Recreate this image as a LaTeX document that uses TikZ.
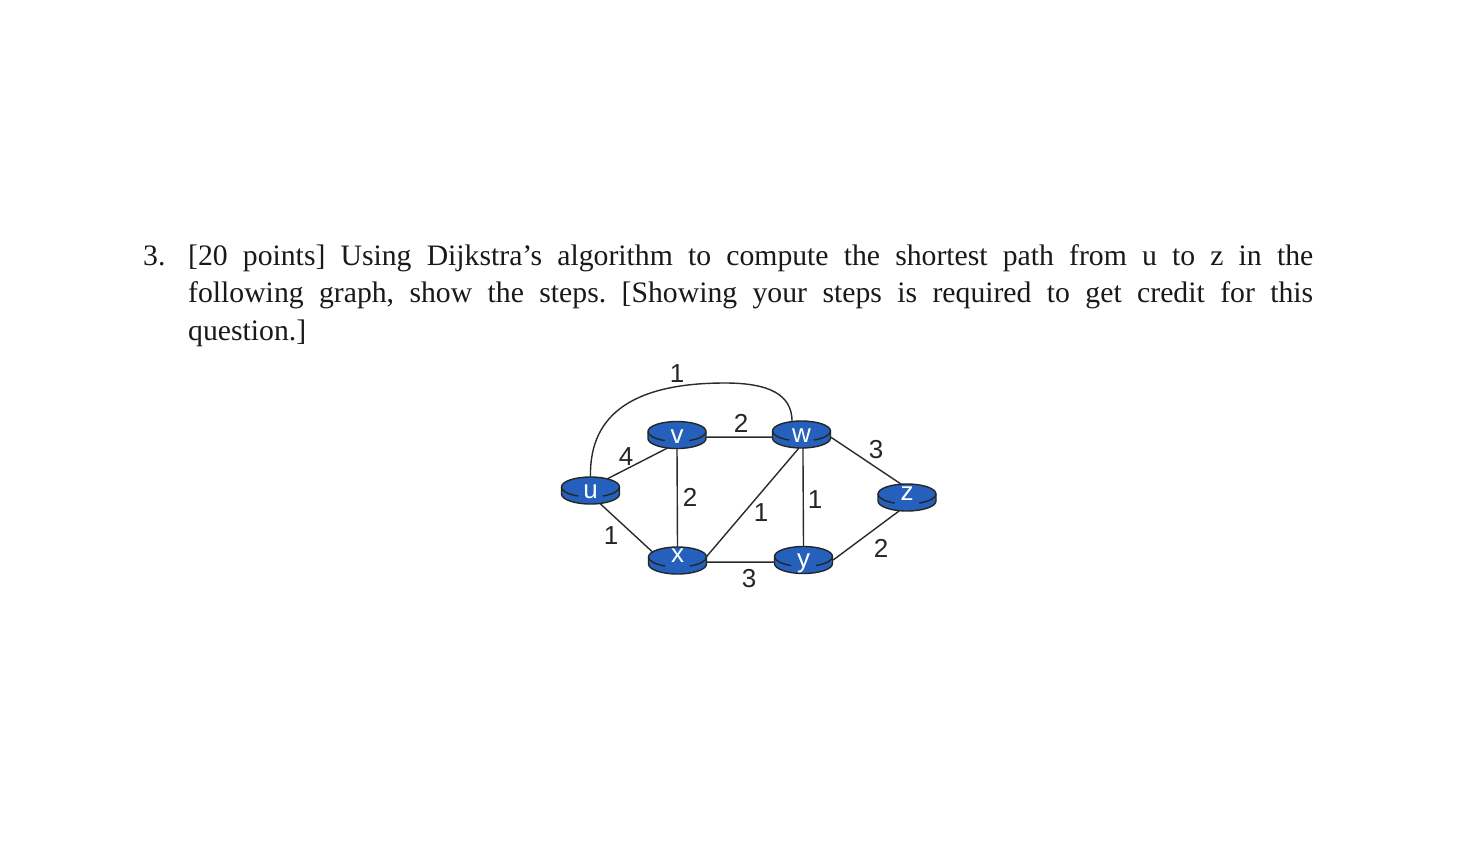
\documentclass[tikz,border=0pt]{standalone}
\usepackage{fontspec}
\setmainfont{Liberation Serif}
\newfontfamily\arialfont{Liberation Sans}
\usetikzlibrary{shapes.geometric}
\definecolor{routerblue}{HTML}{2460BC}
\definecolor{linedark}{HTML}{2B2B2B}
\tikzset{
  textline/.style={anchor=base west,inner sep=0pt,font=\fontsize{29.7}{37.5}\selectfont,text=black!90},
  routerhub/.style={ellipse,minimum width=59pt,minimum height=27pt,inner sep=0pt},
  routertxt/.style={text=white,inner sep=0pt,font=\arialfont\fontsize{26}{26}\selectfont},
  link/.style={draw=linedark,line width=1.4pt},
  cost/.style={inner sep=0pt,text=black!85,font=\arialfont\fontsize{26}{26}\selectfont},
  rbody/.style={fill=routerblue,draw=black!85,line width=1.4pt},
  rmark/.style={draw=black!85,line width=1.4pt},
}
\newcommand{\router}[5]{%
  \node[routerhub] (#1) at (#2,#3) {};
  \begin{scope}[shift={(#2,#3)}]
    \path[rbody] (-29,-3.5) arc[start angle=180,end angle=360,x radius=29,y radius=10] -- (29,3.5) arc[start angle=0,end angle=180,x radius=29,y radius=10] -- cycle;
    \draw[rmark] (-29,-3.5) arc[start angle=180,end angle=115,x radius=29,y radius=10];
    \draw[rmark] (29,-3.5) arc[start angle=0,end angle=65,x radius=29,y radius=10];
  \end{scope}
  \node[routertxt,anchor=base] (#1label) at (#2,#3+#5) {#4};
}
\begin{document}
\frenchspacing
\begin{tikzpicture}[x=1pt,y=-1pt]
\useasboundingbox (0,0) rectangle (1466,846);
\fill[white] (0,0) rectangle (1466,846);
\node[textline] (num) at (143,265) {3.};
\node[textline] (l1) at (188,265) {\makebox[1125pt][s]{[20 points] Using Dijkstra’s algorithm to compute the shortest path from u to z in the}};
\node[textline] (l2) at (188,302) {\makebox[1125pt][s]{following graph, show the steps. [Showing your steps is required to get credit for this}};
\node[textline] (l3) at (188,340) {question.]};
\router{u}{590.5}{490.5}{u}{7.5}
\router{v}{677}{435}{v}{8}
\router{x}{677.5}{560.5}{x}{1.5}
\router{w}{801.5}{434.5}{w}{7.5}
\router{y}{803.5}{560}{y}{7}
\router{z}{907}{497.5}{z}{2.5}
\draw[link] (u.north) .. controls (589,410) and (640,383) .. (725,383) .. controls (770,383) and (792,395) .. (w.126);
\draw[link] (u.35) -- (v.234);
\draw[link] (u.306) -- (x.162);
\draw[link] (v.south) -- (x.north);
\draw[link] (v.356) -- (w.185);
\draw[link] (x.7) -- (w.259);
\draw[link] (x.357) -- (y.184);
\draw[link] (w.276) -- (y.north);
\draw[link] (w.355) -- (z.114);
\draw[link] (y.east) -- (z.240);
\node[cost] (c1) at (677,374) {1};
\node[cost] (c2) at (741,423) {2};
\node[cost] (c3) at (626,457) {4};
\node[cost] (c4) at (690,497) {2};
\node[cost] (c5) at (876,450) {3};
\node[cost] (c6) at (815,500) {1};
\node[cost] (c7) at (761,513) {1};
\node[cost] (c8) at (611,536) {1};
\node[cost] (c9) at (881,548) {2};
\node[cost] (c10) at (749,579) {3};
\end{tikzpicture}
\end{document}
